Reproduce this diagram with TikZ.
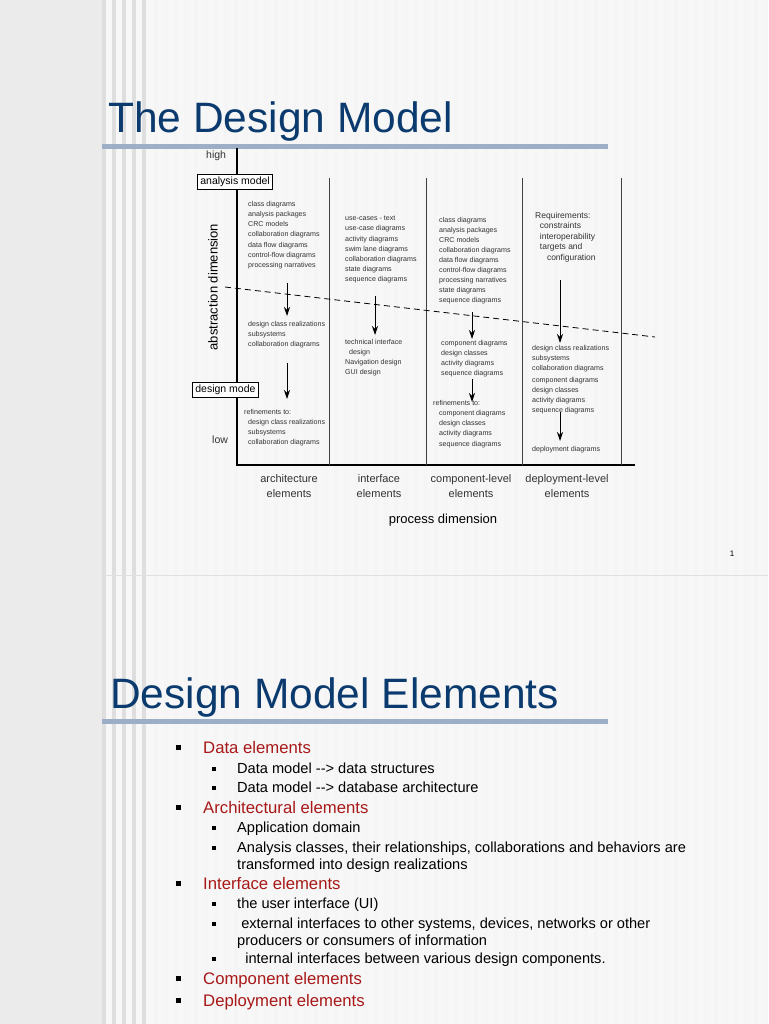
\documentclass[tikz,border=0pt]{standalone}
\usepackage{fontspec}
\setmainfont{Liberation Sans}
\usetikzlibrary{arrows.meta}
\definecolor{bg}{HTML}{EBEBEB}
\definecolor{titleblue}{HTML}{0B3A6E}
\definecolor{rulec}{HTML}{9DAFC7}
\definecolor{redt}{HTML}{A81818}
\definecolor{txt}{HTML}{333333}
\begin{document}
\begin{tikzpicture}[x=1pt,y=-1pt,
  tiny/.style={font=\fontsize{7.1}{10.2}\selectfont,text=txt,align=left,anchor=north west,inner sep=0},
  lab/.style={font=\fontsize{11}{15}\selectfont,text=txt,align=center,inner sep=0},
  arr/.style={-{Stealth[length=9pt,width=6pt]},line width=0.9pt},
  col/.style={line width=1pt,draw=black!75},
  box/.style={draw,line width=0.8pt,fill=white,font=\fontsize{10.5}{12}\selectfont,inner sep=3pt,anchor=west},
  lone/.style={font=\fontsize{16.7}{18}\selectfont,text=redt,anchor=base west,inner sep=0},
  ltwo/.style={font=\fontsize{14.6}{16.5}\selectfont,text=black,anchor=north west,inner sep=0,align=left},
  sq/.style={fill=black,minimum size=5pt,inner sep=0}]
\useasboundingbox (0,0) rectangle (768,1024);
\fill[bg] (0,0) rectangle (768,1024);
\fill[white!97!black] (102,0) rectangle (768,1024);
\foreach \i in {0,...,4} {\fill[black!13] (102+\i*10,0) rectangle (106+\i*10,1024);}
\foreach \i in {0,...,61} {\fill[black!4] (154+\i*10,0) rectangle (158+\i*10,1024);}
\draw[black!12] (102,575) -- (768,575);
% slide 1
\node[font=\fontsize{42.5}{46}\selectfont,text=titleblue,anchor=base west,inner sep=0] (t1) at (108,133) {The Design Model};
\fill[rulec] (102,144) rectangle (608,149);
\node[font=\fontsize{8}{9}\selectfont,anchor=base,inner sep=0] (pg) at (732,556) {1};
% axes
\coordinate (vtop) at (237,148); \coordinate (orig) at (237,465); \coordinate (hend) at (635,465);
\draw[line width=1.6pt] (vtop) -- (orig) -- (hend);
\foreach \x in {329,426,522,621} {\draw[col] (\x,178) -- (\x,465);}
\node[font=\fontsize{10.5}{11}\selectfont,text=txt,anchor=base west,inner sep=0] (hi) at (206,159) {high};
\node[font=\fontsize{10.5}{11}\selectfont,text=txt,anchor=base west,inner sep=0] (lo) at (212,443) {low};
\node[box] (am) at (197,182) {analysis model};
\node[box] (dm) at (192,390) {design mode};
\node[rotate=90,font=\fontsize{13}{14}\selectfont,inner sep=0] (ad) at (213,287) {abstraction dimension};
\draw[dashed,dash pattern=on 6pt off 4pt,line width=0.8pt] (225,287) -- (655,337);
% column 1
\node[tiny] (c1a) at (248,201) {class diagrams\\analysis packages\\CRC models\\collaboration diagrams\\data flow diagrams\\control-flow diagrams\\processing narratives};
\node[tiny] (c1b) at (248,321) {design class realizations\\subsystems\\collaboration diagrams};
\node[tiny] (c1c) at (244,409) {refinements to:\\\ \ design class realizations\\\ \ subsystems\\\ \ collaboration diagrams};
\coordinate (a1s) at (287,283); \coordinate (a1e) at (287,316);
\coordinate (a2s) at (287,363); \coordinate (a2e) at (287,399);
\draw[arr] (a1s) -- (a1e); \draw[arr] (a2s) -- (a2e);
% column 2
\node[tiny] (c2a) at (345,216) {use-cases - text\\use-case diagrams\\activity diagrams\\swim lane diagrams\\collaboration diagrams\\state diagrams\\sequence diagrams};
\node[tiny] (c2b) at (345,339) {technical interface\\\ \ design\\Navigation design\\GUI design};
\coordinate (b1s) at (375,296); \coordinate (b1e) at (375,335);
\draw[arr] (b1s) -- (b1e);
% column 3
\node[tiny,font=\fontsize{7.1}{10}\selectfont] (c3a) at (439,217) {class diagrams\\analysis packages\\CRC models\\collaboration diagrams\\data flow diagrams\\control-flow diagrams\\processing narratives\\state diagrams\\sequence diagrams};
\node[tiny] (c3b) at (441,340) {component diagrams\\design classes\\activity diagrams\\sequence diagrams};
\node[tiny] (c3c) at (433,400) {refinements to:\\\ \ \ component diagrams\\\ \ \ design classes\\\ \ \ activity diagrams\\\ \ \ sequence diagrams};
\coordinate (d1s) at (472,312); \coordinate (d1e) at (472,339);
\coordinate (d2s) at (472,379); \coordinate (d2e) at (472,402);
\draw[arr] (d1s) -- (d1e); \draw[arr] (d2s) -- (d2e);
% column 4
\node[font=\fontsize{8.5}{10.5}\selectfont,text=txt,align=left,anchor=north west,inner sep=0] (c4a) at (535,212) {Requirements:\\\ \ constraints\\\ \ interoperability\\\ \ targets and\\\ \ \ \ \ configuration};
\node[tiny] (c4b) at (532,345) {design class realizations\\subsystems\\collaboration diagrams};
\node[tiny] (c4c) at (532,377) {component diagrams\\design classes\\activity diagrams\\sequence diagrams};
\node[tiny] (c4d) at (532,446) {deployment diagrams};
\coordinate (e1s) at (560,280); \coordinate (e1e) at (560,343);
\coordinate (e2s) at (560,412); \coordinate (e2e) at (560,441);
\draw[arr] (e1s) -- (e1e); \draw[arr] (e2s) -- (e2e);
% bottom labels
\node[lab] (l1) at (289,486) {architecture\\elements};
\node[lab] (l2) at (379,486) {interface\\elements};
\node[lab] (l3) at (471,486) {component-level\\elements};
\node[lab] (l4) at (567,486) {deployment-level\\elements};
\node[font=\fontsize{13}{14}\selectfont,inner sep=0] (pd) at (443,520) {process dimension};
% slide 2
\node[font=\fontsize{42.5}{46}\selectfont,text=titleblue,anchor=base west,inner sep=0] (t2) at (110,708) {Design Model Elements};
\fill[rulec] (102,719) rectangle (608,724);
\foreach \y/\t [count=\k] in {748/Data elements,808/Architectural elements,884/Interface elements,979/Component elements,1001/Deployment elements}
  {\node[sq] (s1\k) at (178,\y-1) {}; \node[lone] (b1\k) at (203,\y+5) {\t};}
\foreach \y/\t [count=\k] in {769/{Data model {-}{-}> data structures},788/{Data model {-}{-}> database architecture},828/{Application domain},848/{Analysis classes, their relationships, collaborations and behaviors are\\transformed into design realizations},904/{the user interface (UI)},924/{\ external interfaces to other systems, devices, networks or other\\producers or consumers of information},959/{\ \ internal interfaces between various design components.}}
  {\node[sq,minimum size=4pt] (s2\k) at (214,\y) {}; \node[ltwo] (b2\k) at (237,\y-6) {\t};}
\end{tikzpicture}
\end{document}
